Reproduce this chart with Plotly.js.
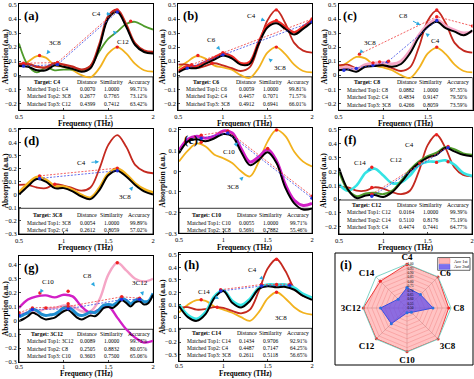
<!DOCTYPE html>
<html><head><meta charset="utf-8">
<script src="https://cdn.plot.ly/plotly-3.0.1.min.js"></script>
<style>html,body{margin:0;padding:0;background:#fff}#chart{width:474px;height:379px}</style>
</head><body><div id="chart"></div>
<script>
// ---------- data ----------
const freq = [0.5,0.6,0.7,0.8,0.9,1.0,1.1,1.2,1.3,1.4,1.5,1.6,1.7,1.8,1.9,2.0];
const freqFine = [0.5,0.55,0.6,0.65,0.7,0.75,0.8,0.85,0.9,0.95,1.0,1.05,1.1,1.15,1.2,1.25,1.3,1.35,1.4,1.45,1.5,1.55,1.6,1.65,1.7,1.75,1.8,1.85,1.9,1.95,2.0];

// (a) target C4
const a_target = [0.065,0.06,0.035,0.035,0.07,0.06,0.045,0.025,0.05,0.2,0.405,0.45,0.345,0.215,0.165,0.155];
const a_top1 = [0.08,0.08,0.06,0.055,0.085,0.075,0.06,0.04,0.065,0.22,0.42,0.465,0.36,0.225,0.175,0.165];
const a_top2 = [0.06,0.095,0.135,0.125,0.07,0.06,0.035,0.0,-0.015,0.05,0.155,0.2,0.155,0.08,0.035,0.025];
const a_top3 = [0.225,0.07,0.02,0.055,0.035,0.04,0.04,0.035,0.065,0.17,0.26,0.31,0.365,0.38,0.35,0.325];
const a_pathRX = [0.55,0.93,1.6], a_pathRY = [0.085,0.09,0.465];
const a_pathBX = [0.55,0.93,1.6], a_pathBY = [0.065,0.075,0.45];
const a_dotsX = [0.73,1.6,1.75], a_dotsY = [0.14,0.2,0.385];
const a_head = "Target: C4";
const a_rows = [["Matched Top1: C4","0.0070","1.0000","99.71%"],["Matched Top2: 3C8","0.2677","0.7765","73.12%"],["Matched Top3: C12","0.4399","0.7412","63.42%"]];

// (b) target C6
const b_target = [0.02,0.05,0.05,0.08,0.11,0.14,0.12,0.075,0.08,0.22,0.34,0.37,0.33,0.29,0.33,0.38];
const b_top1 = [0.03,0.065,0.065,0.095,0.125,0.155,0.135,0.085,0.095,0.235,0.355,0.385,0.345,0.305,0.345,0.395];
const b_top2 = [0.075,0.075,0.05,0.065,0.085,0.07,0.05,0.03,0.055,0.21,0.39,0.465,0.37,0.23,0.175,0.16];
const b_top3 = [0.05,0.095,0.135,0.12,0.07,0.055,0.04,0.0,-0.02,0.05,0.16,0.2,0.15,0.075,0.03,0.02];
const b_pathRX = [0.65,1.0,2.0], b_pathRY = [0.075,0.16,0.40];
const b_pathBX = [0.6,1.0,2.0], b_pathBY = [0.05,0.145,0.38];
const b_dotsX = [0.72,0.88,1.6,1.6,1.6], b_dotsY = [0.14,0.085,0.39,0.465,0.2];
const b_head = "Target: C6";
const b_rows = [["Matched Top1: C6","0.0059","1.0000","99.81%"],["Matched Top2: C4","0.4457","0.7071","71.57%"],["Matched Top3: 3C8","0.4912","0.6941","66.01%"]];

// (c) target C8
const c_target = [0.035,0.04,0.025,0.06,0.065,0.07,0.06,0.08,0.155,0.27,0.345,0.38,0.335,0.31,0.285,0.32];
const c_top1 = [0.05,0.055,0.045,0.075,0.085,0.09,0.08,0.1,0.175,0.285,0.36,0.395,0.35,0.32,0.3,0.31];
const c_top2 = [0.07,0.075,0.05,0.06,0.085,0.07,0.05,0.03,0.055,0.2,0.39,0.46,0.37,0.23,0.175,0.16];
const c_top3 = [0.05,0.09,0.13,0.12,0.07,0.055,0.035,0.0,-0.02,0.05,0.155,0.195,0.15,0.075,0.03,0.02];
const c_pathRX = [0.735,1.6,2.0], c_pathRY = [0.15,0.417,0.35];
const c_pathBX = [0.56,0.7,0.886,1.05,1.6], c_pathBY = [0.035,0.048,0.07,0.095,0.39];
const c_dotsX = [0.886,0.96,1.06,1.6,1.6], c_dotsY = [0.088,0.095,0.1,0.465,0.2];
const c_head = "Target: C8";
const c_rows = [["Matched Top1: C8","0.0882","1.0000","97.35%"],["Matched Top2: C4","0.4834","0.9147","79.50%"],["Matched Top3: 3C8","0.4266","0.8059","73.59%"]];

// (d) target 3C8
const d_target = [0.0,0.065,0.12,0.1,0.05,0.05,0.025,-0.015,-0.035,0.035,0.15,0.185,0.14,0.075,0.025,0.0];
const d_top1 = [0.015,0.085,0.135,0.115,0.065,0.06,0.035,-0.005,-0.025,0.05,0.16,0.2,0.155,0.085,0.04,0.015];
const d_top2 = [0.075,0.075,0.055,0.05,0.08,0.07,0.05,0.03,0.055,0.2,0.385,0.46,0.37,0.23,0.18,0.165];
const d_pathRX = [0.73,1.6], d_pathRY = [0.145,0.205];
const d_pathBX = [0.73,1.6], d_pathBY = [0.125,0.185];
const d_dotsX = [0.9], d_dotsY = [0.08];
const d_head = "Target: 3C8";
const d_rows = [["Matched Top1: 3C8","0.0054","1.0000","99.89%"],["Matched Top2: C4","0.2612","0.8059","57.02%"]];

// (e) target C10
const e_target = [0.087,0.145,0.155,0.145,0.16,0.18,0.17,0.095,0.03,0.055,0.092,0.04,-0.08,-0.155,-0.185,-0.18];
const e_top1 = [0.1,0.155,0.17,0.16,0.17,0.195,0.185,0.11,0.045,0.07,0.105,0.05,-0.065,-0.14,-0.165,-0.155];
const e_top2 = [0.047,0.1,0.135,0.12,0.08,0.063,0.04,0.0,-0.025,0.047,0.145,0.2,0.17,0.095,0.047,0.023];
const e_pathRX = [0.75,1.05,2.0], e_pathRY = [0.175,0.195,-0.12];
const e_pathBX = [0.75,1.05,2.0], e_pathBY = [0.16,0.185,-0.13];
const e_dotsX = [0.75,1.5,1.6], e_dotsY = [0.14,0.11,0.2];
const e_head = "Target: C10";
const e_rows = [["Matched Top1: C10","0.0055","1.0000","99.71%"],["Matched Top2: 3C8","0.5691","0.7882","55.46%"]];

// (f) target C12
const f_target = [0.225,0.07,0.007,0.025,0.03,0.015,0.05,0.12,0.2,0.26,0.3,0.32,0.37,0.345,0.32,0.31];
const f_top1 = [0.2,0.065,0.02,0.04,0.045,0.035,0.06,0.13,0.21,0.27,0.31,0.335,0.375,0.36,0.33,0.32];
const f_top2 = [0.107,0.06,0.1,0.19,0.22,0.17,0.115,0.12,0.17,0.245,0.27,0.27,0.28,0.25,0.19,0.167];
const f_top3 = [0.088,0.085,0.06,0.06,0.085,0.075,0.05,0.035,0.06,0.2,0.39,0.465,0.37,0.23,0.175,0.165];
const f_pathRX = [0.87,1.73], f_pathRY = [0.035,0.38];
const f_pathBX = [0.87,1.73], f_pathBY = [0.02,0.372];
const f_dotsX = [0.87,0.87,1.41,1.6,1.73,1.6], f_dotsY = [0.23,0.083,0.26,0.265,0.27,0.465];
const f_head = "Target: C12";
const f_rows = [["Matched Top1: C12","0.0164","1.0000","99.39%"],["Matched Top2: C14","0.5110","0.8176","75.19%"],["Matched Top3: C4","0.4474","0.7441","64.77%"]];

// (g) target 3C12
const g_target = [-0.005,0.01,0.03,0.055,0.043,0.02,0.007,0.012,0.02,0.043,0.066,0.074,0.05,0.02,0.007,0.02,0.035,0.03,0.055,0.09,0.097,0.09,0.114,0.145,0.126,0.1,0.13,0.138,0.114,0.126,0.185];
const g_top1 = [0.025,0.04,0.055,0.08,0.07,0.045,0.035,0.04,0.045,0.065,0.09,0.095,0.075,0.045,0.035,0.045,0.06,0.055,0.08,0.11,0.115,0.11,0.13,0.16,0.145,0.12,0.145,0.155,0.135,0.14,0.195];
const g_top2 = [0.043,0.055,0.06,0.085,0.09,0.107,0.1,0.066,0.066,0.15,0.33,0.415,0.36,0.3,0.28,0.3];
const g_top3 = [0.09,0.15,0.173,0.18,0.166,0.185,0.173,0.1,0.055,0.078,0.1,0.02,-0.064,-0.124,-0.16,-0.147];
const g_pathRX = [0.5,0.65,1.05,1.65,1.85], g_pathRY = [0.055,0.09,0.1,0.17,0.16];
const g_pathBX = [0.5,0.65,1.05,1.65,1.85], g_pathBY = [0.035,0.078,0.083,0.15,0.15];
const g_dotsX = [0.734,1.05,0.8,1.05,1.6], g_dotsY = [0.197,0.21,0.09,0.12,0.415];
const g_head = "Target: 3C12";
const g_rows = [["Matched Top1: 3C12","0.0089","1.0000","99.73%"],["Matched Top2: C8","0.2505","0.8832","80.05%"],["Matched Top3: C10","0.3603","0.7500","65.06%"]];

// (h) target C14
const h_target = [0.09,0.0,-0.03,0.024,0.155,0.21,0.116,0.077,0.13,0.227,0.248,0.24,0.243,0.22,0.17,0.14];
const h_top1 = [0.1,0.015,-0.015,0.04,0.165,0.215,0.13,0.095,0.145,0.235,0.26,0.26,0.26,0.235,0.185,0.155];
const h_top2 = [0.077,0.08,0.06,0.065,0.08,0.075,0.05,0.03,0.06,0.21,0.39,0.465,0.37,0.23,0.17,0.16];
const h_top3 = [0.037,0.1,0.137,0.13,0.085,0.06,0.035,0.0,-0.03,0.04,0.15,0.2,0.15,0.08,0.035,0.02];
const h_pathRX = [0.97,1.43,1.75], h_pathRY = [0.22,0.262,0.265];
const h_pathBX = [0.97,1.43,1.75], h_pathBY = [0.21,0.25,0.255];
const h_dotsX = [0.75,0.93,1.6,1.6,1.6], h_dotsY = [0.14,0.08,0.465,0.262,0.2];
const h_head = "Target: C14";
const h_rows = [["Matched Top1: C14","0.1434","0.9706","92.91%"],["Matched Top2: C4","0.4487","0.7147","64.25%"],["Matched Top3: 3C8","0.2611","0.5118","56.65%"]];

// (i) radar
const radarCats = ["C4","C6","C8","3C8","C10","C12","3C12","C14"];
const acc1st = [0.9971,0.9981,0.9735,0.9989,0.9971,0.9939,0.9973,0.9291];
const acc2nd = [0.7312,0.7157,0.7950,0.5702,0.5546,0.7519,0.8005,0.6425];
const radialTicks = [0.5,0.55,0.6,0.65,0.7,0.75,0.8,0.85,0.9,0.95,1.0];

// ---------- styles / layout ----------
const W = 474, H = 379;
const FONT = "Liberation Serif, Times New Roman, serif";
const COL = {C4:'#c4291f', C6:'#ee2a24', C8:'#f5a6c6', c3C8:'#f2b21e', C10:'#d21fc6', C12:'#4f9b2b', c3C12:'#1f8ed0', C14:'#35e4e4'};
const ARROW = '#2aa8e0';

const panels = [
 {lab:'(a)', xd:[19,153], yd:[4,110.3], yr:[-0.25,0.507], ytx:5, tt:-0.012, xty:123.5, tso:0,
  curves:[[freq,a_top2,COL.c3C8,1.8],[freq,a_top3,COL.C12,1.8],[freq,a_top1,COL.C4,2.4],[freq,a_target,'#000',2]],
  pr:[a_pathRX,a_pathRY], pb:[a_pathBX,a_pathBY], dots:[a_dotsX,a_dotsY], head:a_head, rows:a_rows,
  labels:[['C4',1.367,0.436,1.53,0.436],['3C8',0.902,0.226,0.809,0.15],['C12',1.665,0.238,1.553,0.317]]},
 {lab:'(b)', xd:[178.3,312], yd:[4,110.3], yr:[-0.25,0.507], ytx:162, tt:-0.012, xty:123.5, tso:0,
  curves:[[freq,b_top3,COL.c3C8,1.8],[freq,b_top2,COL.C4,1.8],[freq,b_top1,COL.C6,2.4],[freq,b_target,'#000',2]],
  pr:[b_pathRX,b_pathRY], pb:[b_pathBX,b_pathBY], dots:[b_dotsX,b_dotsY], head:b_head, rows:b_rows,
  labels:[['C6',0.875,0.25,0.969,0.179],['C4',1.325,0.42,1.475,0.388],['3C8',1.644,0.048,1.512,0.119]]},
 {lab:'(c)', xd:[338.5,472.5], yd:[4,110.3], yr:[-0.25,0.507], ytx:324, tt:-0.017, xty:123.5, tso:0,
  curves:[[freq,c_top3,COL.c3C8,1.8],[freq,c_top2,COL.C4,1.8],[freq,c_top1,COL.C8,3],[freq,c_target,'#000',2]],
  pr:[c_pathRX,c_pathRY], pb:[c_pathBX,c_pathBY], dots:[c_dotsX,c_dotsY], head:c_head, rows:c_rows,
  labels:[['3C8',0.848,0.231,0.735,0.155],['C8',1.227,0.421,1.417,0.357],['C4',1.587,0.245,1.473,0.298]]},
 {lab:'(d)', xd:[19,153], yd:[128.7,234], yr:[-0.305,0.51], ytx:5, tt:-0.106, xty:247, tso:0,
  curves:[[freq,d_top2,COL.C4,1.8],[freq,d_top1,COL.c3C8,3],[freq,d_target,'#000',2]],
  pr:[d_pathRX,d_pathRY], pb:[d_pathBX,d_pathBY], dots:[d_dotsX,d_dotsY], head:d_head, rows:d_rows,
  labels:[['C4',1.2,0.243,1.397,0.255],['3C8',1.683,-0.015,1.777,0.062]]},
 {lab:'(e)', xd:[179,312], yd:[127.7,233.3], yr:[-0.3,0.211], ytx:162, tt:-0.179, xty:247, tso:0,
  curves:[[freq,e_top2,COL.c3C8,1.8],[freq,e_top1,COL.C10,3],[freq,e_target,'#000',2]],
  pr:[e_pathRX,e_pathRY], pb:[e_pathBX,e_pathBY], dots:[e_dotsX,e_dotsY], head:e_head, rows:e_rows,
  labels:[['C10',1.065,0.092,1.163,0.14],['3C8',1.114,-0.074,1.227,-0.026]]},
 {lab:'(f)', xd:[339,472], yd:[128,234], yr:[-0.253,0.514], ytx:324, tt:-0.007, xty:247, tso:0,
  curves:[[freq,f_top3,COL.C4,1.8],[freq,f_top2,COL.C14,2.6],[freq,f_top1,COL.C12,2.2],[freq,f_target,'#000',2]],
  pr:[f_pathRX,f_pathRY], pb:[f_pathBX,f_pathBY], dots:[f_dotsX,f_dotsY], head:f_head, rows:f_rows,
  labels:[['C14',0.733,0.262,0.865,0.202],['C12',1.139,0.279,1.259,0.221],['C4',1.297,0.393,1.41,0.357]]},
 {lab:'(g)', xd:[19,153], yd:[256,362.3], yr:[-0.302,0.464], ytx:5, tt:-0.064, xty:null, tso:-2,
  curves:[[freq,g_top2,COL.C8,2.4],[freq,g_top3,COL.C10,2.4],[freqFine,g_top1,COL.c3C12,3],[freqFine,g_target,'#000',2]],
  pr:[g_pathRX,g_pathRY], pb:[g_pathBX,g_pathBY], dots:[g_dotsX,g_dotsY], head:g_head, rows:g_rows,
  labels:[['C10',0.827,0.28,0.734,0.197],['C8',1.263,0.32,1.349,0.245],['3C12',1.851,0.268,1.888,0.178]]},
 {lab:'(h)', xd:[179,312], yd:[253.3,361.3], yr:[-0.355,0.513], ytx:162, tt:-0.09, xty:null, tso:-2,
  curves:[[freq,h_top3,COL.c3C8,1.8],[freq,h_top2,COL.C4,1.8],[freq,h_top1,COL.C14,3],[freq,h_target,'#000',2]],
  pr:[h_pathRX,h_pathRY], pb:[h_pathBX,h_pathBY], dots:[h_dotsX,h_dotsY], head:h_head, rows:h_rows,
  labels:[['C14',0.786,0.2,0.952,0.148],['C4',1.329,0.375,1.454,0.3],['3C8',1.653,-0.01,1.529,0.05]]}
];

const traces = [];
const layout = {width:W, height:H, margin:{l:0,r:0,t:0,b:0}, paper_bgcolor:'#fff', plot_bgcolor:'#fff',
  showlegend:false, hovermode:false, font:{family:FONT, color:'#000'}, annotations:[], shapes:[]};
const px = p => p/W, py = p => 1 - p/H;

panels.forEach((p,i) => {
  const s = i===0 ? '' : String(i+1);
  const xa = 'x'+s, ya = 'y'+s;
  layout['xaxis'+s] = {domain:[px(p.xd[0]),px(p.xd[1])], range:[0.5,2], anchor:ya, tickvals:[0.5,1,1.5,2],
    showline:true, mirror:true, linecolor:'#000', linewidth:1, ticks:'inside', ticklen:2, showgrid:false, zeroline:false,
    ticklabelstandoff:p.tso, tickfont:{size:6.5, family:FONT}};
  const yt = []; for (let v=-0.3; v<=0.5001; v+=0.1) { const r=Math.round(v*10)/10; if (r>=p.yr[0]-1e-6 && r<=p.yr[1]+1e-6) yt.push(r); }
  layout['yaxis'+s] = {domain:[py(p.yd[1]),py(p.yd[0])], range:p.yr, anchor:xa, tickvals:yt,
    showline:true, mirror:true, linecolor:'#000', linewidth:1, ticks:'inside', ticklen:2, showgrid:false, zeroline:false,
    tickfont:{size:6.5, family:FONT}};
  layout.shapes.push({type:'rect', xref:xa, yref:ya, x0:0.5, x1:2, y0:p.yr[0], y1:p.tt, fillcolor:'#fff', line:{color:'#000', width:0.8}, layer:'below'});
  p.curves.forEach(c => traces.push({type:'scatter', mode:'lines', x:c[0], y:c[1], xaxis:xa, yaxis:ya,
    line:{color:c[2], width:c[3], shape:'spline', smoothing:1}, hoverinfo:'skip'}));
  traces.push({type:'scatter', mode:'lines+markers', x:p.pr[0], y:p.pr[1], xaxis:xa, yaxis:ya,
    line:{color:'#f03a3a', width:0.8, dash:'2px,1.5px'}, marker:{color:'#ee2020', size:3.4}});
  traces.push({type:'scatter', mode:'lines+markers', x:p.pb[0], y:p.pb[1], xaxis:xa, yaxis:ya,
    line:{color:'#3a48e6', width:0.8, dash:'2px,1.5px'}, marker:{color:'#2030e0', size:3.4}});
  traces.push({type:'scatter', mode:'markers', x:p.dots[0], y:p.dots[1], xaxis:xa, yaxis:ya, marker:{color:'#ee2020', size:3.4}});
  p.labels.forEach(l => layout.annotations.push({xref:xa, yref:ya, axref:xa, ayref:ya, x:l[3], y:l[4], ax:l[1], ay:l[2],
    text:l[0], showarrow:true, arrowhead:2, arrowsize:0.8, arrowwidth:1, arrowcolor:ARROW, standoff:0, startstandoff:4,
    font:{size:7, family:FONT}}));
  layout.annotations.push({xref:'paper', yref:'paper', x:px(p.xd[0]+2.5), y:py(p.yd[0]+3), xanchor:'left', yanchor:'top',
    text:'<b>'+p.lab+'</b>', showarrow:false, font:{size:12.5, family:FONT}});
  if (p.xty === null) {
    layout.annotations.push({xref:'paper', yref:'paper', x:px((p.xd[0]+p.xd[1])/2), y:0, xanchor:'center', yanchor:'bottom',
      text:'<b>Frequency (THz)</b>', showarrow:false, borderpad:0, font:{size:7.2, family:FONT}});
  } else {
    layout.annotations.push({xref:'paper', yref:'paper', x:px((p.xd[0]+p.xd[1])/2), y:py(p.xty), xanchor:'center', yanchor:'middle',
      text:'<b>Frequency (THz)</b>', showarrow:false, font:{size:7.5, family:FONT}});
  }
  layout.annotations.push({xref:'paper', yref:'paper', x:px(p.ytx), y:py((p.yd[0]+p.yd[1])/2), xanchor:'center', yanchor:'middle',
    text:'<b>Absorption (a.u.)</b>', textangle:-90, showarrow:false, font:{size:7.5, family:FONT}});
  const topPx = p.yd[0] + (p.yr[1]-p.tt)/(p.yr[1]-p.yr[0])*(p.yd[1]-p.yd[0]);
  const offs = p.rows.length===3 ? [4.8,12.2,19.6,27] : [6.5,14.3,21.3];
  const wpx = p.xd[1]-p.xd[0];
  const colX = [0.51,0.69,0.895];
  layout.annotations.push({xref:'paper', yref:'paper', x:px(p.xd[0]+0.21*wpx), y:py(topPx+offs[0]), xanchor:'center', yanchor:'middle',
    text:'<b>'+p.head+'</b>', showarrow:false, font:{size:5.7, family:FONT}});
  ['Distance','Similarity','Accuracy'].forEach((t,j) => layout.annotations.push({xref:'paper', yref:'paper',
    x:px(p.xd[0]+colX[j]*wpx), y:py(topPx+offs[0]), xanchor:'center', yanchor:'middle', text:t, showarrow:false, font:{size:5.7, family:FONT}}));
  p.rows.forEach((r,k) => {
    layout.annotations.push({xref:'paper', yref:'paper', x:px(p.xd[0]+0.045*wpx), y:py(topPx+offs[k+1]), xanchor:'left', yanchor:'middle',
      text:r[0], showarrow:false, font:{size:5.5, family:FONT}});
    for (let j=1;j<4;j++) layout.annotations.push({xref:'paper', yref:'paper', x:px(p.xd[0]+colX[j-1]*wpx), y:py(topPx+offs[k+1]),
      xanchor:'center', yanchor:'middle', text:r[j], showarrow:false, font:{size:5.5, family:FONT}});
  });
});

// ---------- radar (i) ----------
const closeArr = a => a.concat([a[0]]);
traces.push({type:'scatterpolar', r:closeArr(acc1st), theta:closeArr(radarCats), subplot:'polar', mode:'lines+markers',
  fill:'toself', fillcolor:'rgba(255,135,135,0.5)', line:{color:'#ee3b3b', width:1}, marker:{color:'#ee2222', size:3}});
traces.push({type:'scatterpolar', r:closeArr(acc2nd), theta:closeArr(radarCats), subplot:'polar', mode:'lines+markers',
  fill:'toself', fillcolor:'rgba(95,75,235,0.72)', line:{color:'#3a4ee0', width:1}, marker:{color:'#2a70dd', size:3}});
layout.polar = {domain:{x:[px(363),px(451)], y:[py(352),py(264)]}, bgcolor:'#fff', gridshape:'linear',
  angularaxis:{type:'category', categoryarray:radarCats, rotation:90, direction:'clockwise', showline:true, linecolor:'#5fc6b8', linewidth:0.8,
    gridcolor:'#9a9a9a', gridwidth:0.6, ticks:'', tickfont:{size:9, family:FONT, weight:'bold'}},
  radialaxis:{range:[0.5,1.0], tickvals:radialTicks, tickformat:'.2f', angle:90, tickangle:90, showline:false, ticks:'',
    gridcolor:'rgba(215,70,70,0.55)', gridwidth:0.6, tickfont:{size:3.5, family:FONT}}};
layout.shapes.push({type:'rect', xref:'paper', yref:'paper', x0:px(335), x1:px(473), y0:py(365), y1:py(253), line:{color:'#000', width:1}});
layout.shapes.push({type:'rect', xref:'paper', yref:'paper', x0:px(437.7), x1:px(470), y0:py(270.3), y1:py(257.5), fillcolor:'#fff', line:{color:'#000', width:0.6}});
layout.shapes.push({type:'rect', xref:'paper', yref:'paper', x0:px(439), x1:px(450), y0:py(263.5), y1:py(258.5), fillcolor:'rgba(255,150,150,0.7)', line:{color:'#ee6666', width:0.4}});
layout.shapes.push({type:'rect', xref:'paper', yref:'paper', x0:px(439), x1:px(450), y0:py(269.3), y1:py(264.3), fillcolor:'rgba(95,75,235,0.8)', line:{color:'#3a4ee0', width:0.4}});
layout.annotations.push({xref:'paper', yref:'paper', x:px(451.5), y:py(261), xanchor:'left', yanchor:'middle', text:'Acc 1st', showarrow:false, font:{size:4.5, family:FONT}});
layout.annotations.push({xref:'paper', yref:'paper', x:px(451.5), y:py(266.8), xanchor:'left', yanchor:'middle', text:'Acc 2nd', showarrow:false, font:{size:4.5, family:FONT}});
layout.annotations.push({xref:'paper', yref:'paper', x:px(337.5), y:py(256), xanchor:'left', yanchor:'top', text:'<b>(i)</b>', showarrow:false, font:{size:12.5, family:FONT}});

Plotly.newPlot('chart', traces, layout, {displayModeBar:false, staticPlot:true});
</script></body></html>
